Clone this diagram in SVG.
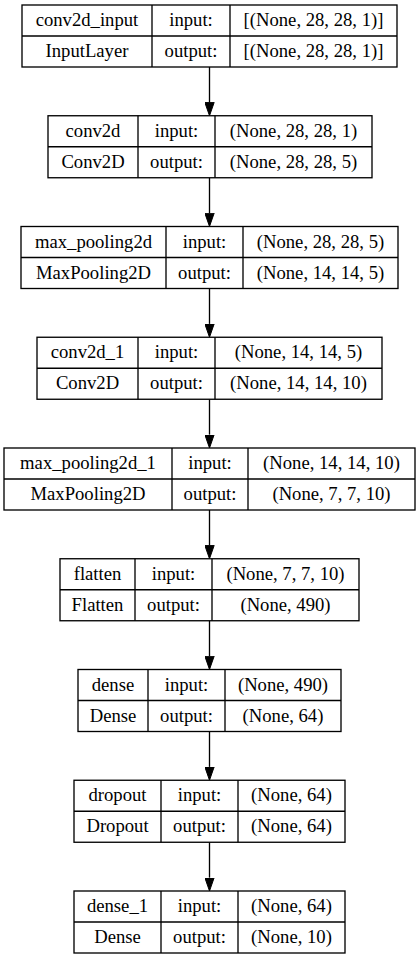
<svg xmlns="http://www.w3.org/2000/svg" width="420" height="959" viewBox="0 0 420 959">
<style>
.box{fill:#fff;stroke:#000;stroke-width:1.33}
.div{stroke:#000;stroke-width:1.33}
text{font-family:'Liberation Serif','Times New Roman',Tinos,'Nimbus Roman','Nimbus Roman No9 L',FreeSerif,'Noto Serif','DejaVu Serif','Bitstream Vera Serif',Georgia,serif;font-size:18.67px;fill:#000;text-anchor:middle}
.edge{stroke:#000;stroke-width:1.33;fill:none;marker-end:url(#arr)}
</style>
<defs>
<marker id="arr" markerUnits="userSpaceOnUse" markerWidth="14" markerHeight="10" refX="0" refY="4.67" orient="auto" viewBox="0 0 14 9.34">
<path d="M0,0 L13.33,4.67 L0,9.34 z" fill="#000" stroke="#000" stroke-width="1"/>
</marker>
</defs>
<rect x="0" y="0" width="420" height="959" fill="#fff"/>

<g id="edges">
<line class="edge" x1="209.5" y1="67" x2="209.5" y2="102.4"/>
<line class="edge" x1="209.5" y1="177.75" x2="209.5" y2="213.15"/>
<line class="edge" x1="209.5" y1="288.5" x2="209.5" y2="323.9"/>
<line class="edge" x1="209.5" y1="399.25" x2="209.5" y2="434.65"/>
<line class="edge" x1="209.5" y1="510" x2="209.5" y2="545.4"/>
<line class="edge" x1="209.5" y1="620.75" x2="209.5" y2="656.15"/>
<line class="edge" x1="209.5" y1="731.5" x2="209.5" y2="766.9"/>
<line class="edge" x1="209.5" y1="842.25" x2="209.5" y2="877.65"/>
</g>

<g id="conv2d_input">
<rect class="box" x="22" y="5" width="375" height="62"/>
<line class="div" x1="22" y1="36" x2="397" y2="36"/>
<line class="div" x1="152" y1="5" x2="152" y2="67"/>
<line class="div" x1="230" y1="5" x2="230" y2="67"/>
<text x="87" y="26">conv2d_input</text><text x="191" y="26">input:</text><text x="313.5" y="26">[(None, 28, 28, 1)]</text>
<text x="87" y="57">InputLayer</text><text x="191" y="57">output:</text><text x="313.5" y="57">[(None, 28, 28, 1)]</text>
</g>

<g id="conv2d">
<rect class="box" x="48" y="115.75" width="324" height="62"/>
<line class="div" x1="48" y1="146.75" x2="372" y2="146.75"/>
<line class="div" x1="138" y1="115.75" x2="138" y2="177.75"/>
<line class="div" x1="215" y1="115.75" x2="215" y2="177.75"/>
<text x="93" y="136.75">conv2d</text><text x="176.5" y="136.75">input:</text><text x="293.5" y="136.75">(None, 28, 28, 1)</text>
<text x="93" y="167.75">Conv2D</text><text x="176.5" y="167.75">output:</text><text x="293.5" y="167.75">(None, 28, 28, 5)</text>
</g>

<g id="max_pooling2d">
<rect class="box" x="21" y="226.5" width="377" height="62"/>
<line class="div" x1="21" y1="257.5" x2="398" y2="257.5"/>
<line class="div" x1="166" y1="226.5" x2="166" y2="288.5"/>
<line class="div" x1="243" y1="226.5" x2="243" y2="288.5"/>
<text x="93.5" y="247.5">max_pooling2d</text><text x="204.5" y="247.5">input:</text><text x="320.5" y="247.5">(None, 28, 28, 5)</text>
<text x="93.5" y="278.5">MaxPooling2D</text><text x="204.5" y="278.5">output:</text><text x="320.5" y="278.5">(None, 14, 14, 5)</text>
</g>

<g id="conv2d_1">
<rect class="box" x="37" y="337.25" width="345" height="62"/>
<line class="div" x1="37" y1="368.25" x2="382" y2="368.25"/>
<line class="div" x1="138" y1="337.25" x2="138" y2="399.25"/>
<line class="div" x1="215" y1="337.25" x2="215" y2="399.25"/>
<text x="87.5" y="358.25">conv2d_1</text><text x="176.5" y="358.25">input:</text><text x="298.5" y="358.25">(None, 14, 14, 5)</text>
<text x="87.5" y="389.25">Conv2D</text><text x="176.5" y="389.25">output:</text><text x="298.5" y="389.25">(None, 14, 14, 10)</text>
</g>

<g id="max_pooling2d_1">
<rect class="box" x="4" y="448" width="411" height="62"/>
<line class="div" x1="4" y1="479" x2="415" y2="479"/>
<line class="div" x1="172" y1="448" x2="172" y2="510"/>
<line class="div" x1="248" y1="448" x2="248" y2="510"/>
<text x="88" y="469">max_pooling2d_1</text><text x="210" y="469">input:</text><text x="331.5" y="469">(None, 14, 14, 10)</text>
<text x="88" y="500">MaxPooling2D</text><text x="210" y="500">output:</text><text x="331.5" y="500">(None, 7, 7, 10)</text>
</g>

<g id="flatten">
<rect class="box" x="60" y="558.75" width="299" height="62"/>
<line class="div" x1="60" y1="589.75" x2="359" y2="589.75"/>
<line class="div" x1="135" y1="558.75" x2="135" y2="620.75"/>
<line class="div" x1="212" y1="558.75" x2="212" y2="620.75"/>
<text x="97.5" y="579.75">flatten</text><text x="173.5" y="579.75">input:</text><text x="285.5" y="579.75">(None, 7, 7, 10)</text>
<text x="97.5" y="610.75">Flatten</text><text x="173.5" y="610.75">output:</text><text x="285.5" y="610.75">(None, 490)</text>
</g>

<g id="dense">
<rect class="box" x="78" y="669.5" width="263" height="62"/>
<line class="div" x1="78" y1="700.5" x2="341" y2="700.5"/>
<line class="div" x1="148" y1="669.5" x2="148" y2="731.5"/>
<line class="div" x1="225" y1="669.5" x2="225" y2="731.5"/>
<text x="113" y="690.5">dense</text><text x="186.5" y="690.5">input:</text><text x="283" y="690.5">(None, 490)</text>
<text x="113" y="721.5">Dense</text><text x="186.5" y="721.5">output:</text><text x="283" y="721.5">(None, 64)</text>
</g>

<g id="dropout">
<rect class="box" x="74" y="780.25" width="271" height="62"/>
<line class="div" x1="74" y1="811.25" x2="345" y2="811.25"/>
<line class="div" x1="161" y1="780.25" x2="161" y2="842.25"/>
<line class="div" x1="238" y1="780.25" x2="238" y2="842.25"/>
<text x="117.5" y="801.25">dropout</text><text x="199.5" y="801.25">input:</text><text x="291.5" y="801.25">(None, 64)</text>
<text x="117.5" y="832.25">Dropout</text><text x="199.5" y="832.25">output:</text><text x="291.5" y="832.25">(None, 64)</text>
</g>

<g id="dense_1">
<rect class="box" x="74" y="891" width="271" height="62"/>
<line class="div" x1="74" y1="922" x2="345" y2="922"/>
<line class="div" x1="161" y1="891" x2="161" y2="953"/>
<line class="div" x1="238" y1="891" x2="238" y2="953"/>
<text x="117.5" y="912">dense_1</text><text x="199.5" y="912">input:</text><text x="291.5" y="912">(None, 64)</text>
<text x="117.5" y="943">Dense</text><text x="199.5" y="943">output:</text><text x="291.5" y="943">(None, 10)</text>
</g>
</svg>
